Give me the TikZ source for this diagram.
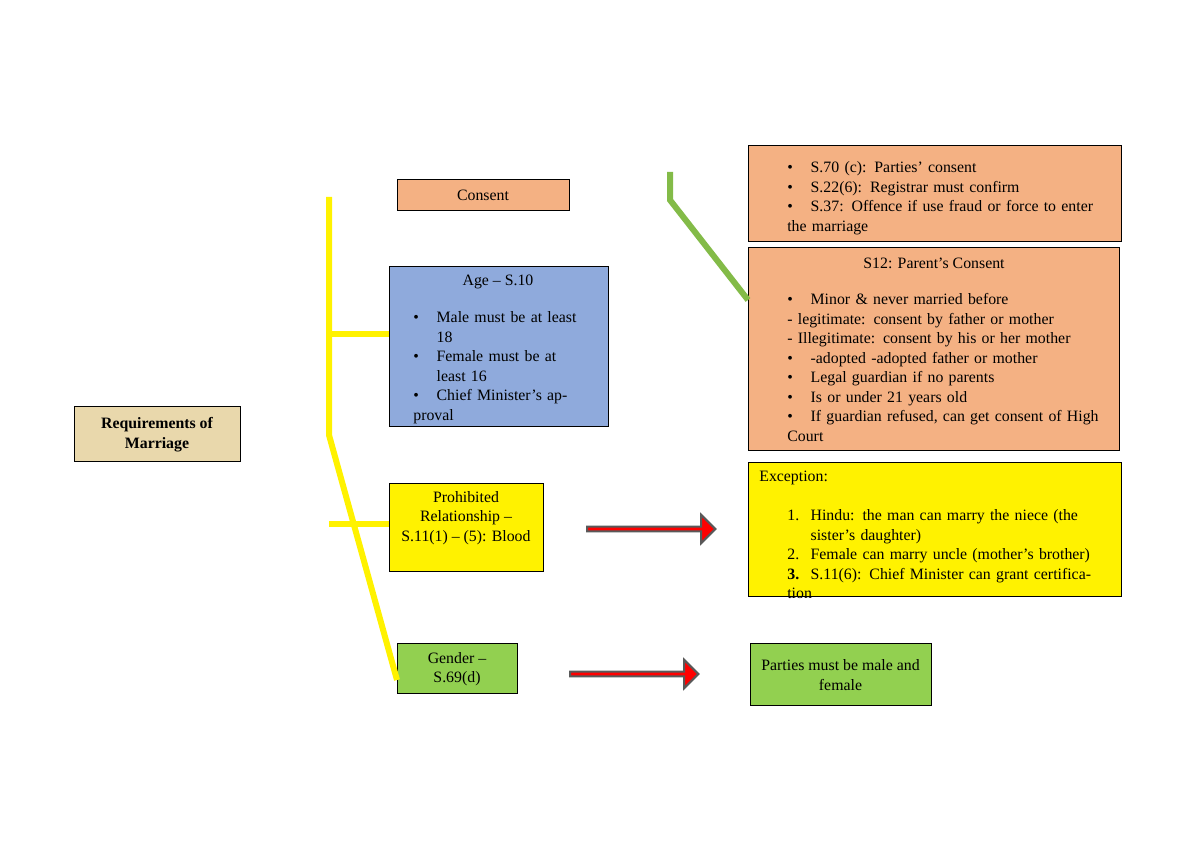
\documentclass[tikz,border=0pt]{standalone}
\usepackage{fontspec}
\setmainfont{Liberation Serif}
\usetikzlibrary{shapes.arrows}
\definecolor{salmon}{HTML}{F4B183}
\definecolor{ageblue}{HTML}{8FAADC}
\definecolor{ggreen}{HTML}{92D050}
\definecolor{tan}{HTML}{E9D8AC}
\newcommand{\bi}[1]{\par\noindent\hangindent=14pt\hangafter=1\makebox[14pt][l]{\textbullet}#1}
\newcommand{\numit}[2]{\par\noindent\hangindent=14pt\hangafter=1\makebox[14pt][l]{#1}#2}
\tikzset{
 box/.style={draw=black,line width=0.6pt},
 txt/.style={anchor=north west,inner sep=0pt,font=\fontsize{9.5}{11.7}\selectfont,align=left},
 ctxt/.style={inner sep=0pt,font=\fontsize{9.5}{11.7}\selectfont,align=center},
 yl/.style={draw=yellow,line width=3.6pt},
 gl/.style={draw=ggreen!90!black,line width=3.6pt},
 barr/.style={single arrow,draw=black!65,line width=1.2pt,fill=red,single arrow head extend=3pt,minimum height=77pt,minimum width=17pt,inner sep=0pt,single arrow tip angle=90}
}
\begin{document}
\begin{tikzpicture}[x=0.6pt,y=-0.6pt]
\useasboundingbox (0,0) rectangle (1200,848);
% boxes
\draw[box,fill=tan] (74,407) rectangle (240,462) node[midway,ctxt,font=\fontsize{9.5}{11.7}\selectfont\bfseries] (req) {Requirements of\\Marriage};
\draw[box,fill=salmon] (397,180) rectangle (569,211) node[midway,ctxt] (cons) {Consent};
\draw[box,fill=ageblue] (389,267) rectangle (608,427);
\node[ctxt] (aget) at (498,282) {Age -- S.10};
\node[txt,text width=100pt] (agel) at (413,303) {\bi{Male must be at least 18}\bi{Female must be at least 16}\bi{Chief Minister’s approval}};
\draw[box,fill=yellow] (389,484) rectangle (543,572);
\node[ctxt] (proh) at (466,518) {Prohibited\\Relationship --\\S.11(1) -- (5): Blood};
\draw[box,fill=ggreen] (397,644) rectangle (517,694) node[midway,ctxt] (gend) {Gender --\\S.69(d)};
\draw[box,fill=salmon] (748,146) rectangle (1121,242);
\node[txt,text width=192pt] (s70) at (787,153) {\bi{S.70 (c): Parties’ consent}\bi{S.22(6): Registrar must confirm}\bi{S.37: Offence if use fraud or force to enter the marriage}};
\draw[box,fill=salmon] (748,248) rectangle (1119,451);
\node[ctxt] (s12t) at (934,263) {S12: Parent’s Consent};
\node[txt,text width=192pt] (s12) at (787,285) {\bi{Minor \& never married before\\- legitimate: consent by father or mother\\- Illegitimate: consent by his or her mother}\bi{-adopted -adopted father or mother}\bi{Legal guardian if no parents}\bi{Is or under 21 years old}\bi{If guardian refused, can get consent of High Court}};
\draw[box,fill=yellow] (748,463) rectangle (1121,597);
\node[txt] (exct) at (759,471) {Exception:};
\node[txt,text width=192pt] (exc) at (787,501) {\numit{1.}{Hindu: the man can marry the niece (the sister’s daughter)}\numit{2.}{Female can marry uncle (mother’s brother)}\numit{\textbf{3.}}{S.11(6): Chief Minister can grant certification}};
\draw[box,fill=ggreen] (750,644) rectangle (931,706) node[midway,ctxt] (part) {Parties must be male and\\female};
% lines
\coordinate (y1) at (329,197); \coordinate (y2) at (329,435); \coordinate (y3) at (397,680);
\draw[yl] (y1) -- (y2) -- (y3);
\coordinate (h1) at (329,334); \coordinate (h2) at (389,334);
\draw[yl] (h1) -- (h2);
\coordinate (h3) at (329,524); \coordinate (h4) at (389,524);
\draw[yl] (h3) -- (h4);
\coordinate (g1) at (670,172); \coordinate (g2) at (670,200); \coordinate (g3) at (748,300);
\draw[gl] (g1) -- (g2) -- (g3);
% arrows
\node[barr] (a1) at (650,529) {};
\node[barr] (a2) at (633,674) {};
\end{tikzpicture}
\end{document}
